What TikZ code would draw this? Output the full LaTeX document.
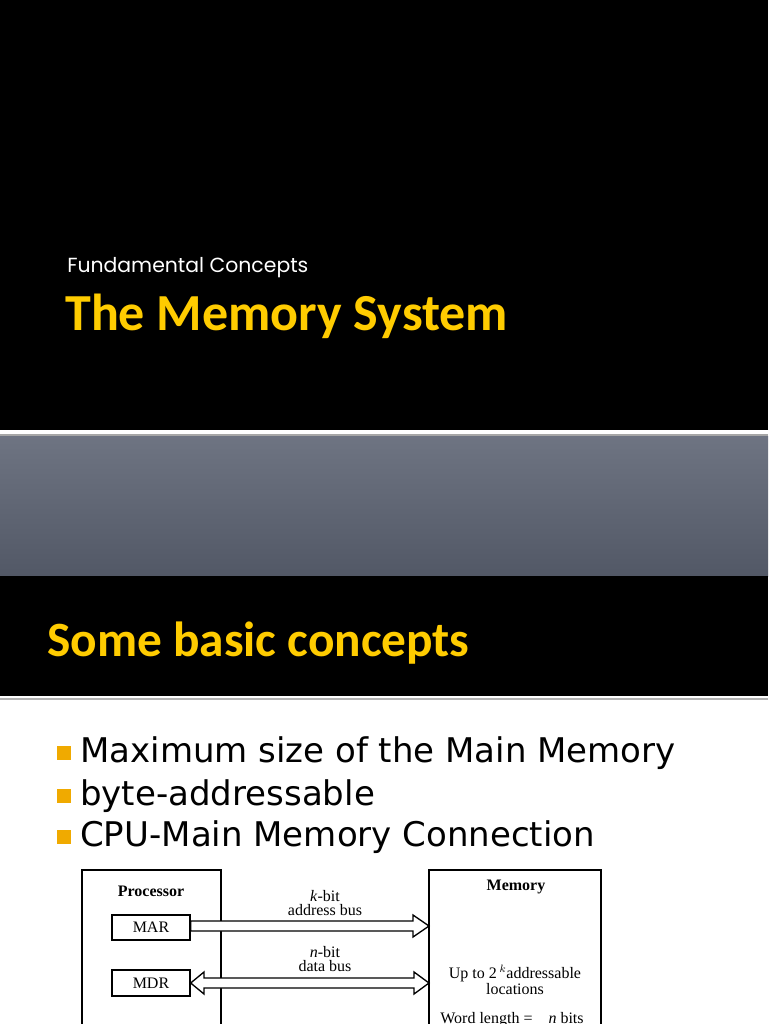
\documentclass[tikz,border=0pt]{standalone}
\usepackage{fontspec}
\setmainfont{Liberation Serif}
\newfontfamily\carl{Carlito}
\newfontfamily\osans{Poppins}
\newfontfamily\dvs{DejaVu Sans}
\definecolor{gold}{RGB}{255,204,0}
\definecolor{bul}{RGB}{240,170,0}
\begin{document}
\begin{tikzpicture}[x=0.75pt,y=-0.75pt,
  box/.style={draw,line width=1.2pt,fill=white},
  small/.style={font=\fontsize{12}{10}\selectfont,inner sep=0pt},
  bullet/.style={anchor=west,font=\dvs\fontsize{25.5}{26}\selectfont,inner sep=0pt}]
\useasboundingbox (0,0) rectangle (768,1024);
\fill[black] (0,0) rectangle (768,430);
\fill[white] (0,430) rectangle (768,434);
\fill[gray!70] (0,434) rectangle (768,436);
\shade[top color={rgb,255:red,110;green,116;blue,130}, bottom color={rgb,255:red,82;green,88;blue,102}] (0,436) rectangle (768,576);
\fill[black] (0,576) rectangle (768,696);
\fill[white] (0,696) rectangle (768,698);
\fill[gray!60] (0,698) rectangle (768,700);
\fill[white] (0,700) rectangle (768,1024);
\node[anchor=west,text=white,font=\osans\fontsize{15.3}{16}\selectfont,inner sep=0pt] (sub) at (67,268) {Fundamental Concepts};
\node[anchor=west,text=gold,font=\carl\bfseries\fontsize{39}{40}\selectfont,inner sep=0pt] (title) at (65,316) {The Memory System};
\node[anchor=west,text=gold,font=\carl\bfseries\fontsize{37}{38}\selectfont,inner sep=0pt] (sec) at (47,643) {Some basic concepts};
\foreach \y/\t [count=\i] in {753/Maximum size of the Main Memory,796/byte-addressable,837/CPU-Main Memory Connection}{
  \fill[bul] (57,\y-7) rectangle (71,\y+7);
  \node[bullet] (b\i) at (80,\y) {\t};
}
\draw[box] (82,870) rectangle (221,1030);
\node[small,font=\bfseries\fontsize{12}{11}\selectfont] (proc) at (151,891) {Processor};
\node[box,line width=1pt,minimum width=78*0.75pt,minimum height=25*0.75pt,small] (mar) at (151,927.5) {MAR};
\node[box,line width=1pt,minimum width=78*0.75pt,minimum height=26*0.75pt,small] (mdr) at (151,983) {MDR};
\draw[box] (429,870) rectangle (601,1030);
\node[small,font=\bfseries\fontsize{12}{11}\selectfont] (mem) at (516,887) {Memory};
\draw[line width=1pt,fill=white] (mar.east|-0,921) -- (413,921) -- (413,915) -- (429,926) -- (413,937) -- (413,931) -- (mar.east|-0,931) -- cycle;
\draw[line width=1pt,fill=white] (mdr.east) -- (204,972) -- (204,978) -- (414,978) -- (414,972) -- (429,983) -- (414,994) -- (414,988) -- (204,988) -- (204,994) -- cycle;
\node[small,align=center] (ab) at (325,903) {\textit{k}-bit\\address bus};
\node[small,align=center] (db) at (325,959) {\textit{n}-bit\\data bus};
\node[small,align=center] (loc) at (515,980) {Up to 2\,$^{k}$addressable\\locations};
\node[small,anchor=north] (wl) at (512,1012) {Word length =\quad\textit{n} bits};
\end{tikzpicture}
\end{document}
